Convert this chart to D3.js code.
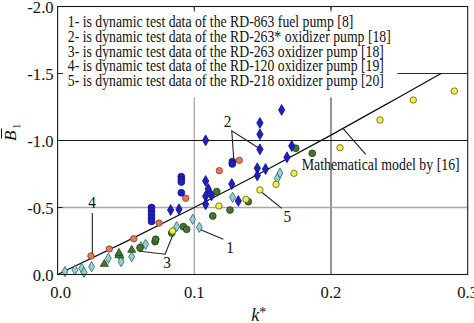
<!DOCTYPE html>
<html><head><meta charset="utf-8">
<script src="https://cdn.jsdelivr.net/npm/d3@7"></script>
<style>
body{margin:0;background:#fff}
svg{display:block}
text{font-family:"Liberation Serif","Times New Roman",serif;fill:#111}
</style>
</head><body>
<svg id="chart" width="474" height="323"></svg>
<script>
// ---------- data ----------
const xTicks = [0, 0.1, 0.2, 0.3];
const xTickLabels = ["0.0", "0.1", "0.2", "0.3"];
const yTicks = [-2, -1.5, -1, -0.5, 0];
const yTickLabels = ["-2.0", "-1.5", "-1.0", "-0.5", "0.0"];

const legendLines = [
  "1- is dynamic test data of the RD-863 fuel pump [8]",
  "2- is dynamic test data of the RD-263* oxidizer pump [18]",
  "3- is dynamic test data of the RD-263 oxidizer pump [18]",
  "4- is dynamic test data of the RD-120 oxidizer pump [19]",
  "5- is dynamic test data of the RD-218 oxidizer pump [20]"
];

// series 1: RD-863 fuel pump  [k*, B1]
const series1 = [
  [0.0054,-0.022],[0.0127,-0.034],[0.0176,-0.046],[0.0193,-0.016],[0.0249,-0.058],
  [0.0371,-0.121],[0.0464,-0.125],[0.0464,-0.096],[0.0542,-0.133],[0.0610,-0.207],
  [0.0644,-0.225],[0.0871,-0.357],[0.0988,-0.412],[0.1037,-0.352],[0.1280,-0.576],
  [0.1607,-0.718],[0.1627,-0.757]
];
// series 2: RD-263* oxidizer pump (circles and diamonds)
const series2Circles = [
  [0.0687,-0.500],[0.0687,-0.474],[0.0687,-0.448],[0.0687,-0.422],[0.0687,-0.396],
  [0.0905,-0.730],[0.0905,-0.709],[0.0905,-0.690],[0.0905,-0.610],
  [0.1278,-0.842],[0.1278,-0.825]
];
const series2Diamonds = [
  [0.0827,-0.481],[0.0888,-0.487],[0.1083,-1.001],[0.1083,-0.698],[0.1102,-0.638],
  [0.1126,-0.590],[0.1083,-0.584],[0.1083,-0.524],[0.1274,-0.675],[0.1322,-0.549],
  [0.1461,-0.793],[0.1461,-0.739],[0.1521,-0.787],[0.1480,-0.934],[0.1480,-1.046],
  [0.1480,-1.131],[0.1639,-1.228],[0.1678,-0.875],[0.1713,-0.959]
];
// series 3: RD-263 oxidizer pump (triangles and circles)
const series3Triangles = [
  [0.0342,-0.078],[0.0449,-0.143],[0.0449,-0.160],[0.0542,-0.183]
];
const series3Circles = [
  [0.0603,-0.200],[0.0713,-0.245],[0.0718,-0.263],[0.0835,-0.310],[0.0920,-0.357],
  [0.0944,-0.337],[0.1135,-0.437],[0.1164,-0.618],[0.1261,-0.481],[0.1395,-0.543],
  [0.1742,-0.942],[0.1863,-0.904]
];
// series 4: RD-120 oxidizer pump
const series4 = [
  [0.0244,-0.138],[0.0378,-0.190],[0.0557,-0.267],[0.0742,-0.384],[0.0937,-0.569],
  [0.1183,-0.775],[0.1329,-0.852]
];
// series 5: RD-218 oxidizer pump
const series5 = [
  [0.0841,-0.325],[0.1180,-0.511],[0.1378,-0.561],[0.1480,-0.631],[0.1598,-0.673],
  [0.1729,-0.755],[0.2066,-0.946],[0.2359,-1.153],[0.2602,-1.302],[0.2902,-1.369]
];
// mathematical model [16]
const modelLine = [
  [0,0],[0.05,-0.245],[0.1,-0.5],[0.15,-0.765],[0.2,-1.04],[0.25,-1.325],[0.2805,-1.5]
];

// annotations: label text, label anchor [k,B], leader polylines
const annotations = [
  {text:"1", at:[0.1261,-0.160], lines:[[[0.1042,-0.336],[0.1212,-0.263]]]},
  {text:"2", at:[0.1243,-1.103], lines:[[[0.1290,-0.842],[0.1274,-1.073],[0.1473,-0.942]]]},
  {text:"3", at:[0.0800,-0.049], lines:[[[0.0590,-0.175],[0.0786,-0.151],[0.0846,-0.302]]]},
  {text:"4", at:[0.0252,-0.496], lines:[[[0.0254,-0.459],[0.0254,-0.146]]]},
  {text:"5", at:[0.1680,-0.392], lines:[[[0.1480,-0.625],[0.1640,-0.494]]]}
];
const modelLabel = {text:"Mathematical model by [16]", at:[0.1786,-0.780],
  line:[[0.2090,-1.086],[0.2254,-0.897]]};

// ---------- layout ----------
const W = 474, H = 323;
const plot = {left:57.6, right:467.7, top:6.5, bottom:274.5};
const svg = d3.select("#chart");
const x = d3.scaleLinear().domain([0,0.3]).range([plot.left, plot.right]);
const y = d3.scaleLinear().domain([-2,0]).range([plot.top, plot.bottom]);

const g = svg.append("g");

// gridlines
const gridV = [{v:0.1,c:"#a8a8a8",w:1.3},{v:0.2,c:"#2a2a2a",w:1}];
gridV.forEach(d=>g.append("line").attr("x1",x(d.v)).attr("x2",x(d.v))
  .attr("y1",plot.top).attr("y2",plot.bottom).attr("stroke",d.c).attr("stroke-width",d.w));
const gridH = [{v:-0.5,c:"#a8a8a8",w:1.3},{v:-1,c:"#1a1a1a",w:1.1},{v:-1.5,c:"#2a2a2a",w:1}];
gridH.forEach(d=>g.append("line").attr("y1",y(d.v)).attr("y2",y(d.v))
  .attr("x1",plot.left).attr("x2",plot.right).attr("stroke",d.c).attr("stroke-width",d.w));

// legend white background (hides gridlines)
g.append("rect").attr("x",x(0.004)).attr("y",y(-1.98)).attr("width",x(0.2486)-x(0.004))
  .attr("height",y(-1.322)-y(-1.98)).attr("fill","#fff");

// small inward ticks
const tl = 5;
xTicks.slice(1,3).forEach(t=>{
  g.append("line").attr("x1",x(t)).attr("x2",x(t)).attr("y1",plot.top).attr("y2",plot.top+tl).attr("stroke","#222");
});
yTicks.forEach(t=>{
  g.append("line").attr("x1",plot.left).attr("x2",plot.left+tl).attr("y1",y(t)).attr("y2",y(t)).attr("stroke","#222");
});

// model line
g.append("path").datum(modelLine)
  .attr("d", d3.line().x(d=>x(d[0])).y(d=>y(d[1])).curve(d3.curveMonotoneX))
  .attr("fill","none").attr("stroke","#111").attr("stroke-width",1.3);

// annotation leader lines
const lineGen = d3.line().x(d=>x(d[0])).y(d=>y(d[1]));
annotations.forEach(a=>a.lines.forEach(l=>g.append("path").attr("d",lineGen(l))
  .attr("fill","none").attr("stroke","#222").attr("stroke-width",1.1)));
g.append("path").attr("d",lineGen(modelLabel.line)).attr("fill","none").attr("stroke","#222").attr("stroke-width",1.1);

// markers
const diamond = d3.symbol().type(d3.symbolDiamond);
const triangle = d3.symbol().type(d3.symbolTriangle);
function drawDiamonds(data, fill, stroke, size){
  g.append("g").selectAll("path").data(data).join("path")
    .attr("d", diamond.size(size)())
    .attr("transform", d=>`translate(${x(d[0])},${y(d[1])})`)
    .attr("fill",fill).attr("stroke",stroke).attr("stroke-width",0.8);
}
function drawCircles(data, fill, stroke, r){
  g.append("g").selectAll("circle").data(data).join("circle")
    .attr("cx", d=>x(d[0])).attr("cy", d=>y(d[1])).attr("r", r)
    .attr("fill",fill).attr("stroke",stroke).attr("stroke-width",0.8);
}
function drawTriangles(data, fill, stroke, size){
  g.append("g").selectAll("path").data(data).join("path")
    .attr("d", triangle.size(size)())
    .attr("transform", d=>`translate(${x(d[0])},${y(d[1])})`)
    .attr("fill",fill).attr("stroke",stroke).attr("stroke-width",0.8);
}
drawDiamonds(series1, "#92d2d4", "#2f5f66", 30);
drawCircles(series4, "#e2795a", "#8a3a22", 3.2);
drawTriangles(series3Triangles, "#3f7a2a", "#1f3f14", 28);
drawCircles(series3Circles, "#44752a", "#1f3f14", 3.4);
drawCircles(series5, "#f4f04a", "#5a5a20", 3.2);
drawCircles(series2Circles, "#1f1fc4", "#10107a", 3.4);
drawDiamonds(series2Diamonds, "#1f1fc4", "#10107a", 34);

// frame
g.append("rect").attr("x",plot.left).attr("y",plot.top)
  .attr("width",plot.right-plot.left).attr("height",plot.bottom-plot.top)
  .attr("fill","none").attr("stroke","#1a1a1a").attr("stroke-width",1.1);

// helper for horizontally condensed serif text
function txt(px, py, s, size, anchor, sx){
  return g.append("text").attr("transform",`translate(${px},${py}) scale(${sx},1)`)
    .attr("text-anchor",anchor).attr("font-size",size).text(s);
}

// legend text
legendLines.forEach((s,i)=>{
  txt(x(0.0075), y(-1.99) + 19.5 + i*14.6, s, 16, "start", 0.86);
});

// annotation labels
annotations.forEach(a=>txt(x(a.at[0]), y(a.at[1]), a.text, 17, "middle", 0.9));
txt(x(modelLabel.at[0]), y(modelLabel.at[1]), modelLabel.text, 16.3, "start", 0.85);

// axes tick labels
xTicks.forEach((t,i)=>txt(x(t) + (i===0?3:0), plot.bottom + 23.5, xTickLabels[i], 17.5, "middle", 0.95));
yTicks.forEach((t,i)=>txt(plot.left - 4, y(t) + 6, yTickLabels[i], 17.5, "end", 0.95));

// x-axis title: k*
const xt = g.append("text").attr("transform",`translate(${(plot.left+plot.right)/2 - 4},${H-2.5})`)
  .attr("text-anchor","middle").attr("font-size",18);
xt.append("tspan").attr("font-style","italic").text("k");
xt.append("tspan").attr("font-size",14).attr("dy",-4).text("*");

// y-axis title: B̄1
const yg = g.append("g").attr("transform",`translate(16,141) rotate(-90)`);
yg.append("text").attr("font-size",17).attr("font-style","italic").text("B");
yg.append("line").attr("x1",2.5).attr("x2",12.5).attr("y1",-14.5).attr("y2",-14.5).attr("stroke","#111").attr("stroke-width",1);
yg.append("text").attr("x",12).attr("y",4).attr("font-size",11).text("1");
</script>
</body></html>
